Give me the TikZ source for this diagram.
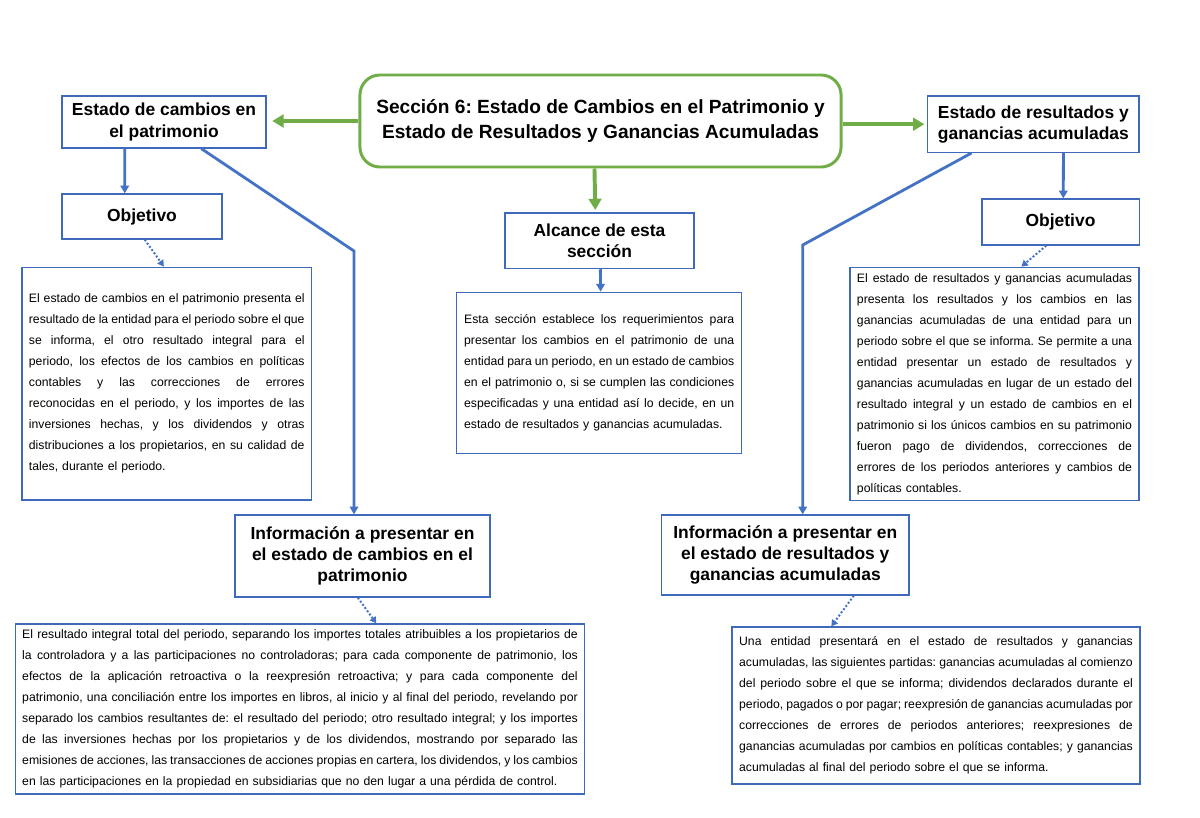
\documentclass[tikz,border=0pt]{standalone}
\usepackage{fontspec}
\setmainfont{Liberation Sans}
\usepackage{xcolor}
\usepackage{tikz}
\usetikzlibrary{positioning,arrows.meta}

\definecolor{lineblue}{HTML}{4472C4}
\definecolor{boxblue}{HTML}{3F69BA}
\definecolor{leafgreen}{HTML}{70AD47}
\frenchspacing
\newcommand{\jline}[1]{{\spaceskip=0pt\xspaceskip=0pt\makebox[\hsize][s]{#1}}}

\begin{document}
\begin{tikzpicture}[
    x=0.025cm, y=-0.025cm,
    mainbox/.style={draw=leafgreen, line width=2.1pt, rounded corners=0.5cm, inner sep=0pt, align=center, font=\fontsize{13.6}{17.4}\selectfont\bfseries},
    head/.style={draw=boxblue, line width=0.9pt, inner sep=0pt, align=center, font=\fontsize{12.4}{15.1}\selectfont\bfseries},
    txt/.style={draw=boxblue, line width=0.9pt, inner sep=0pt, align=left, font=\fontsize{8.7}{14.95}\selectfont},
    garrow/.style={-{Triangle[length=8pt,width=9pt]}, line width=2.8pt, leafgreen},
    barrow/.style={-{Triangle[length=5.5pt,width=6pt]}, line width=2pt, lineblue},
    darrow/.style={-{Triangle[length=4.5pt,width=5pt]}, line width=1.4pt, dash pattern=on 1.4pt off 1.4pt, lineblue}
]
\path[use as bounding box, fill=white] (0,0) rectangle (1200,817);

% cabeceras
\node[mainbox, minimum width=12.025cm, minimum height=2.3cm] (seccion) at (600.5,121) {Sección 6: Estado de Cambios en el Patrimonio y\\Estado de Resultados y Ganancias Acumuladas};
\node[head, minimum width=5.1cm, minimum height=1.3cm] (cambios) at (164,122) {Estado de cambios en\\el patrimonio};
\node[head, minimum width=5.28cm, minimum height=1.41cm] (resultados) at (1033.4,124.2) {Estado de resultados y\\ganancias acumuladas};
\node[head, minimum width=4cm, minimum height=1.125cm] (objcambios) at (142,216.5) {Objetivo};
\node[head, minimum width=3.93cm, minimum height=1.15cm] (objresultados) at (1060.5,222) {Objetivo};
\node[head, minimum width=4.725cm, minimum height=1.39cm] (alcance) at (599.5,240.8) {Alcance de esta\\sección};
\node[head, minimum width=6.375cm, minimum height=2.05cm] (infocambios) at (362.5,556) {Información a presentar en\\el estado de cambios en el\\patrimonio};
\node[head, minimum width=6.19cm, minimum height=2cm] (inforesultados) at (785.25,555) {Información a presentar en\\el estado de resultados y\\ganancias acumuladas};

% textos
\node[txt, text width=6.89cm, minimum width=7.24cm, minimum height=5.82cm] (objcambiostxt) at (166.75,383.65) {%
\jline{El estado de cambios en el patrimonio presenta el}\\
\jline{resultado de la entidad para el periodo sobre el que}\\
\jline{se informa, el otro resultado integral para el}\\
\jline{periodo, los efectos de los cambios en políticas}\\
\jline{contables y las correcciones de errores}\\
\jline{reconocidas en el periodo, y los importes de las}\\
\jline{inversiones hechas, y los dividendos y otras}\\
\jline{distribuciones a los propietarios, en su calidad de}\\
tales, durante el periodo.};
\node[txt, text width=6.75cm, minimum width=7.125cm, minimum height=4.025cm] (alcancetxt) at (599.2,372.8) {%
\jline{Esta sección establece los requerimientos para}\\
\jline{presentar los cambios en el patrimonio de una}\\
\jline{entidad para un periodo, en un estado de cambios}\\
\jline{en el patrimonio o, si se cumplen las condiciones}\\
\jline{especificadas y una entidad así lo decide, en un}\\
estado de resultados y ganancias acumuladas.};
\node[txt, text width=6.875cm, minimum width=7.225cm, minimum height=5.835cm] (objresultadostxt) at (994.5,384) {%
\jline{El estado de resultados y ganancias acumuladas}\\
\jline{presenta los resultados y los cambios en las}\\
\jline{ganancias acumuladas de una entidad para un}\\
\jline{periodo sobre el que se informa. Se permite a una}\\
\jline{entidad presentar un estado de resultados y}\\
\jline{ganancias acumuladas en lugar de un estado del}\\
\jline{resultado integral y un estado de cambios en el}\\
\jline{patrimonio si los únicos cambios en su patrimonio}\\
\jline{fueron pago de dividendos, correcciones de}\\
\jline{errores de los periodos anteriores y cambios de}\\
políticas contables.};
\node[txt, text width=13.885cm, minimum width=14.23cm, minimum height=4.25cm] (infocambiostxt) at (300,709) {%
\jline{El resultado integral total del periodo, separando los importes totales atribuibles a los propietarios de}\\
\jline{la controladora y a las participaciones no controladoras; para cada componente de patrimonio, los}\\
\jline{efectos de la aplicación retroactiva o la reexpresión retroactiva; y para cada componente del}\\
\jline{patrimonio, una conciliación entre los importes en libros, al inicio y al final del periodo, revelando por}\\
\jline{separado los cambios resultantes de: el resultado del periodo; otro resultado integral; y los importes}\\
\jline{de las inversiones hechas por los propietarios y de los dividendos, mostrando por separado las}\\
\jline{emisiones de acciones, las transacciones de acciones propias en cartera, los dividendos, y los cambios}\\
en las participaciones en la propiedad en subsidiarias que no den lugar a una pérdida de control.};
\node[txt, text width=9.84cm, minimum width=10.2cm, minimum height=3.925cm] (inforesultadostxt) at (936,705.5) {%
\jline{Una entidad presentará en el estado de resultados y ganancias}\\
\jline{acumuladas, las siguientes partidas: ganancias acumuladas al comienzo}\\
\jline{del periodo sobre el que se informa; dividendos declarados durante el}\\
\jline{periodo, pagados o por pagar; reexpresión de ganancias acumuladas por}\\
\jline{correcciones de errores de periodos anteriores; reexpresiones de}\\
\jline{ganancias acumuladas por cambios en políticas contables; y ganancias}\\
acumuladas al final del periodo sobre el que se informa.};

% flechas verdes
\draw[garrow, shorten >=0.14cm] (seccion.west) -- (seccion.west -| cambios.east);
\draw[garrow, shorten >=0.07cm] (seccion.east |- resultados.west) -- (resultados.west);
\draw[garrow, shorten >=0.06cm] ([shift={(236,0)}]seccion.south west) -- ([shift={(91,0)}]alcance.north west);

% flechas azules
\coordinate (lbend) at (354,251);
\coordinate (rbend) at (802.7,245);
\draw[barrow] ([shift={(63.4,0)}]cambios.south west) -- ([shift={(63.4,0)}]objcambios.north west);
\draw[barrow] ([shift={(140,0)}]cambios.south west) -- (lbend) -- (lbend |- infocambios.north);
\draw[barrow] ([shift={(136.3,0)}]resultados.south west) -- ([shift={(82,0)}]objresultados.north west);
\draw[barrow] ([shift={(44.3,0)}]resultados.south west) -- (rbend) -- (rbend |- inforesultados.north);
\draw[barrow] ([shift={(96,0)}]alcance.south west) -- ([shift={(144.6,0)}]alcancetxt.north west);

% flechas punteadas
\draw[darrow] ([shift={(83.4,0)}]objcambios.south west) -- ([shift={(142.6,0)}]objcambiostxt.north west);
\draw[darrow] ([shift={(65,0)}]objresultados.south west) -- ([shift={(172,0)}]objresultadostxt.north west);
\draw[darrow] ([shift={(123.5,0)}]infocambios.south west) -- ([shift={(361.6,0)}]infocambiostxt.north west);
\draw[darrow] ([shift={(193,0)}]inforesultados.south west) -- ([shift={(100,0)}]inforesultadostxt.north west);

\end{tikzpicture}
\end{document}
